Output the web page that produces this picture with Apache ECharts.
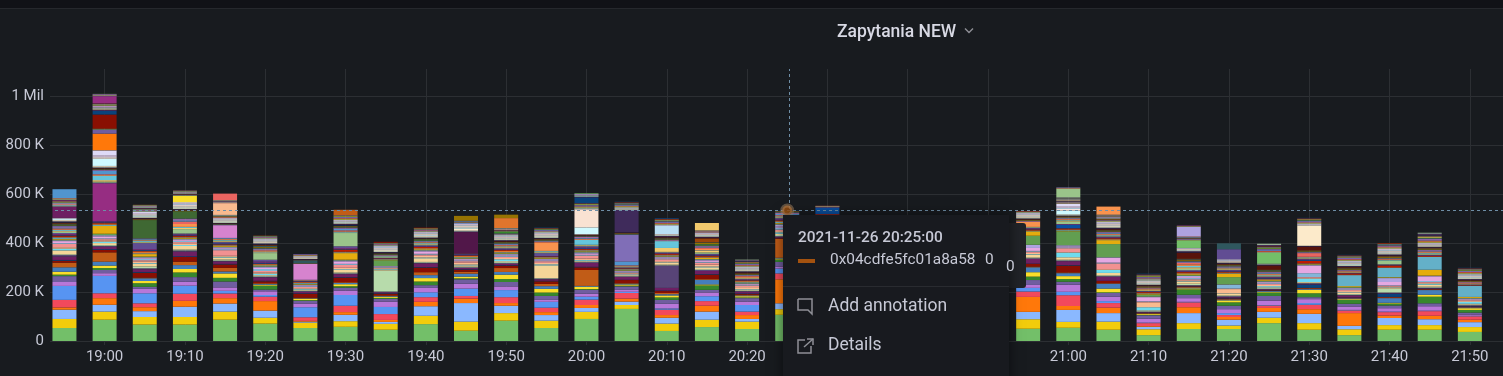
<!DOCTYPE html>
<html>
<head>
<meta charset="utf-8">
<title>Zapytania NEW</title>
<script src="https://cdn.jsdelivr.net/npm/echarts@6/dist/echarts.min.js"></script>
<style>
html,body{margin:0;padding:0;background:#181b1f;overflow:hidden}
#chart{width:1503px;height:376px}
</style>
</head>
<body>
<div id="chart"></div>
<script>
// grafana palette, order of the series in the stack
var palette = ['#73BF69','#F2CC0C','#8AB8FF','#FF780A','#F2495C','#5794F2','#B877D9','#705DA0','#37872D','#FADE2A','#447EBC','#C15C17','#890F02','#0A437C','#6D1F62','#584477','#B7DBAB','#F4D598','#70DBED','#F9BA8F','#F29191','#82B5D8','#E5A8E2','#AEA2E0','#629E51','#E5AC0E','#64B0C8','#E0752D','#BF1B00','#0A50A1','#962D82','#614D93','#9AC48A','#F2C96D','#65C5DB','#F9934E','#EA6460','#5195CE','#D683CE','#806EB7','#3F6833','#967302','#2F575E','#99440A','#58140C','#052B51','#511749','#3F2B5B','#E0F9D7','#FCEACA','#CFFAFF','#F9E2D2','#FCE2DE','#BADFF4','#F9D9F9','#DEDAF7'];

var times = ['18:55','19:00','19:05','19:10','19:15','19:20','19:25','19:30','19:35','19:40','19:45','19:50','19:55','20:00','20:05','20:10','20:15','20:20','20:25','20:30','20:35','20:40','20:45','20:50','20:55','21:00','21:05','21:10','21:15','21:20','21:25','21:30','21:35','21:40','21:45','21:50'];
var xTicks = ['19:00','19:10','19:20','19:30','19:40','19:50','20:00','20:10','20:20','20:30','20:40','20:50','21:00','21:10','21:20','21:30','21:40','21:50'];
var yTicks = [0,200000,400000,600000,800000,1000000];

// values in thousands, one entry per series, bottom of the stack first
var bar1855 = [53,37,38,9,31,57,16,24,6,12,18,19,8,3,14,6, 3,16,7,6,14,3,8,3,3,3,6,3,5,3,3,4, 5,3,4,3,4,4,3,3,3,3,3,2,2,2,2,2, 2,3,4,1,1,1,1,1, 0,0,0,0,0,0,0,0,0,0,0,0,0,0, 46, 1,2,1,2,2,3,2,1,2,2,1,2,1,2,1,2,1,2,2,1,1,1, 36];
var bar1900 = [87,33,28,27,20,71,11,13,8,10,16,38,10,3,10,4, 3,8,6,5,5,3,8,5,6,32,5,5,4,4,156,3, 4,6,18,3,3,14,2,2,1,1,1,2,2,1,1,1, 3,3,30,3,3,2,5,20, 0,0,1,68,0,0,0,16,1,1,1,2,57,16, 2,2,1,2,2,2,2,2,3,2,2,2,2,1,2,1, 29, 1,1,1,1,1,1,1,1,1,1];
var bar1905 = [67,31,24,16,16,41,18,8,15,9,11,3,20,3,11,4, 8,10,3,7,5,6,3,3,3,10,3,8,3,3,3,25, 3,2,5,2,2,3,1,1,75,2,1,1,2,1,1,1, 2,3,5,2,3,2,3,5, 1,1,1,1,1,1,1,1,1,1,1,1,1,1,1,1,1,1,1,1,1,1,1,1,1,1,1,1];
var bar1910 = [67,31,42,24,29,33,16,19,19,14,16,14,19,3,19,5, 4,14,4,7,5,5,4,3,2,3,2,3,4,2,3,4, 18,5,4,12,10,5,4,3,30,2,1,1,2,1,1,1, 3,4,3,3,4,3,3,5, 0,0,0,0,0,0,0,0,0,27,2,1,2,1, 1,1,1,1,1,1,1,1,1,1,1,1,1,1,1,1];
var bar1915 = [87,33,33,22,19,11,14,24,15,18,8,15,14,2,10,3, 5,8,3,4,23,4,4,4,2,3,2,3,2,4,2,3, 2,4,3,3,2,3,52,2,1,1,1,1,1,1,1,1, 3,3,3,2,3,2,2,2, 0,1,0,1,1,0,1,0,1,1,0,1,0,1,1,0,1,1,1, 48, 1,1,1,1,0,1,1,1,0,1,1,1,0,1,1,1, 26];
var bar1920 = [71,24,29,39,18,7,15,7,16,4,3,3,8,2,14,3, 3,3,6,5,6,8,5,5,2,3,2,3,2,4,4,8, 27,3,3,3,3,3,2,2,3,3,5,2,2,2,2,2, 2,3,2,2,3,2,2,3, 1,1,1,1,1,1,1,1,1,1,1,1];
var bar1925 = [53,22,4,3,15,41,15,11,3,5,2,3,16,2,6,3, 3,3,3,3,5,3,3,2,2,3,3,3,2,2,1,2, 0,1,0,1,0,1,65,1,1,1,12,1,1,1,1,1, 2,2,1,2,1,1,1,2, 1,1,1,1,1,1,1,1];
var bar1930 = [58,23,26,11,26,44,18,12,6,8,5,3,19,2,12,3, 4,10,3,6,12,4,10,4,3,27,3,3,9,2,3,8, 54,2,3,2,4,6,2,3,2,3,1,1,1,3,2,3, 2,3,2,2,1,1,2,3, 1,2,1,2,1,2,2,1,2,2,2, 23];
var bar1935 = [46,24,8,8,24,29,22,11,4,4,3,3,7,2,4,3, 86,4,2,3,3,2,2,2,24,2,2,1,2,1,1,1, 3,2,2,1,1,1,1,1,2,1,2,1,1,2,1,2, 3,4,3,3,4,3,2,3, 1,1,1,1,1,1,1,1,1,1,1,1,4];
var bar1940 = [69,34,39,18,19,20,18,11,15,14,12,12,19,2,15,3, 3,15,3,7,5,3,10,4,2,3,2,3,4,2,2,3, 4,3,3,2,2,2,1,1,6,1,1,1,1,1,1,2, 3,4,3,3,3,2,2,3, 1,1,1,1,2,1,1,2,1,2,1,1,2];
var bar1945 = [42,37,76,18,11,30,20,18,4,7,12,8,8,2,5,3, 3,5,3,8,6,3,5,2,2,3,2,4,3,3,1,2, 0,0,0,0,0,0,1,0,0,0,0,0,1,0,87,3, 3,8,5,5,3,2,3,3, 0,0,1,0,0,1,0,0,1,0,0,1,0,0,1,0,0,1,0,0,1,0,0,1,0,0,1,0,0,1,0,0,1,0,0,1,0,0,0,0,0, 19];
var bar1950 = [83,31,30,11,24,29,15,18,12,18,11,16,10,2,5,3, 4,4,8,5,5,5,3,3,3,3,2,6,3,2,2,3, 3,3,2,3,2,3,1,2,3,2,1,1,3,1,1,2, 3,3,2,3,2,2,2,3, 1,1,1,0,1,1,1,1, 8, 1,1,1,1,0,1,1,1,0,1,1,1,0,1,1,1,0,1, 41, 0,0,0,0,0,0,0,0,0,0,0,0,0, 14];
var bar1955 = [53,30,23,12,18,24,8,16,14,15,11,9,11,2,6,3, 2,52,4,6,7,3,3,3,2,2,2,2,2,1,1,12, 3,3,3,35,3,2,1,1,2,2,1,1,2,1,1,2, 3,3,3,3,3,2,2,3, 1,1,2,1,1,2,1,1,2,1,1,2,1,2];
var bar2000 = [90,29,16,12,22,12,12,16,3,10,3,65,11,2,16,3, 3,3,3,6,12,3,5,5,3,2,3,3,3,3,3,5, 3,3,20,3,2,3,3,2,1,1,1,2,1,1,1,1, 1,1,27,73,2,1,1,1, 2,2,1,2,1,2,2,1,2,2,2,1,1, 24, 1,1,1,1,2,1,1,2,2,2,3];
var bar2005 = [131,16,14,12,23,5,8,14,3,5,3,2,13,1,12,2, 2,3,3,4,3,2,3,3,2,2,2,2,2,1,1,2, 1,2,1,2,2,16,1,109,2,2,1,1,1,1,1,92, 2,1,1,1,1,1,1,2, 1,2,1,2,1,2,2,1,2,1,2,2,2,2];
var bar2010 = [41,30,24,11,22,5,19,16,10,8,5,5,8,2,11,92, 3,7,2,5,8,3,4,3,2,2,2,3,3,1,2,3, 2,16,28,1,1,1,2,1,2,2,2,2,2,1,2,2, 2,1,2,1,2,34,1,2, 1,2,2,2,2,2,2,2,2,2,2,2,2,3];
var bar2015 = [57,30,33,24,19,20,15,11,18,4,19,3,18,2,13,4, 3,8,3,8,8,3,6,4,2,4,2,4,3,2,2,4, 6,6,2,6,6,2,2,2,8,5,2,16,2,1,2,2, 2,3,2,2,2,2,2,2, 0,0,0,1,0,0,0,1,0,0,0,1,0,0,0,1,0,0,0,1,0,0,0,1,0,0,0,1,0,0,0,1,1, 30];
var bar2020 = [49,30,11,16,14,27,14,14,3,5,3,3,3,2,8,2, 3,3,2,8,7,3,3,2,2,2,3,4,2,1,2,2, 2,2,1,5,3,2,1,1,2,2,1,2,3,1,2,2, 3,3,2,2,2,1,1,3, 1,2,2,2,1,2,2,2,2,2,1,2,1,2,2,2,2];
var bar2025 = [107,23,24,98,24,20,8,19,10,4,3,77,3,2,3,3, 5,5,6,5,6,8,5,8,3,3,5,3,3,3,3,3, 2,2,3,2,3,5,3,3,2,2,1,1,1,3];
var bar2030 = [60,30,30,30,25,40,25,20,10,10,10,15,10,5,10,5, 10,10,8,10,12,10,10,10,65,8,12,10,8,27,1,1, 1,1,1,1,1];
var bar2035 = [];
var bar2040 = [];
var bar2045 = [];
var bar2050 = [];
var bar2055 = [50,39,30,61,22,15,12,20,14,18,20,3,11,1,19,3, 3,12,2,5,5,3,12,13,37,18,2,2,4,2,2,2, 2,1,1,20,2,1,1,1,1,2,1,1,2,1,1,1, 3,5,2,3,3,2,2,3, 1,1,1,1,1];
var bar2100 = [54,24,49,16,44,14,29,12,11,12,12,3,28,2,16,3, 3,10,19,2,16,3,4,5,57,3,3,2,4,14,2,2, 10,4,2,3,3,2,1,1,1,2,1,1,1,1,1,1, 2,2,15,3,5,5,5,10, 1,1,1,0,1,1,1,1,0,1,1,1,0,1,1,1,1,1,0,1,1,1,1,0,1,1,1,1,0,1,1,1, 35, 1,1,1,1,1,1];
var bar2105 = [46,33,35,22,19,8,18,15,3,15,20,2,9,1,16,3, 3,10,12,3,24,3,20,2,54,16,2,3,3,2,2,3, 2,2,2,3,2,3,2,3,2,2,2,2,3,2,2,2, 2,4,3,3,3,2,3,5, 1,1,0,1,1,1,0,1,1,1,0,1,1,1,1,0,1,1,1,0,1,1,1,1,0,1,1,1,0,1,1,1,1,1,1, 33];
var bar2110 = [24,24,10,3,12,2,16,14,2,4,1,1,2,1,2,2, 2,3,13,20,2,2,17,2,9,2,2,3,3,2,1,1, 2,3,1,3,2,1,1,1,1,2,2,2,2,1,1,1, 2,3,3,3,3,1,1,2, 1,2,2,2,1,2,2,2,2,2,2,2,2,3];
var bar2115 = [49,24,41,24,20,2,15,14,22,4,3,3,2,1,2,2, 6,8,2,4,4,5,4,5,3,4,2,4,3,2,2,3, 6,6,6,6,6,2,2,2,3,3,3,3,23,2,2,3, 1,2,2,3,2,1,1,1, 31, 1,1,1,0,1,1,1,1,0,1,1,1,0,1,1,1,0,1,1,1,0,1, 38, 1,1,1,1,1,1,1];
var bar2120 = [49,14,24,11,8,8,16,14,14,8,3,2,3,3,3,3, 3,8,1,17,2,15,1,1,30,14,2,3,3,2,2,3, 2,2,2,2,2,2,1,2,1,3,2,2,2,1,1,3, 1,2,1,2,2,2,2,2, 0,0,0,0,0,0,0,0,0,0,0,0,0,0,0,0,0,0,0,0,0,0,0,0,0,0,0,0,0,0,0, 41, 0,0,0,0,0,0,0,0,0,0, 24];
var bar2125 = [73,22,24,16,10,2,18,19,14,3,3,1,2,1,3,2, 3,3,5,5,4,3,4,3,3,3,2,2,2,3,2,3, 2,3,2,3,2,3,2,3,2,3,2,2,16,1,2,2, 3,0,0,0,0,0,0,0, 44, 2,2,2,3,3,2,2,3,2,2,2,2,2,2,2,4];
var bar2130 = [46,27,38,19,18,7,16,8,16,14,3,3,2,14,3,2, 2,3,14,3,3,16,31,2,2,2,2,1,11,3,2,3, 2,2,2,2,15,1,1,2,2,2,2,2,14,1,1,1, 1,82,1,1,1,2,2,2, 1,1,2,1,2,2,1,2,2,2,1,2,2,2];
var bar2135 = [24,24,14,52,11,2,14,11,16,3,3,1,2,1,8,3, 3,5,2,5,4,3,3,3,3,4,45,2,5,1,1,1, 1,2,1,2,2,1,1,1,2,3,2,3,2,1,1,3, 3,2,3,2,3,2,2,3, 1,2,2,1,2,2,2,2,1,2,2,2,2,2];
var bar2140 = [46,19,29,10,14,2,14,11,8,3,19,3,2,14,2,2, 16,3,2,3,3,2,14,16,2,2,38,2,8,2,1,1, 15,1,2,2,2,1,1,1,2,3,2,2,2,1,1,3, 3,2,3,4,3,3,3,3, 1,1,2,2,2,1,2,2,2,1,2,2,2];
var bar2145 = [46,19,24,14,19,2,18,12,27,8,19,2,2,2,2,2, 4,8,4,4,3,4,19,2,1,24,52,2,3,1,2,1, 3,2,3,3,3,3,2,1,2,2,2,2,1,1,1,2, 2,2,1,3,2,2,2,2, 1,2,2,3,2,2,3,3,2,3,3,2,2,3,2,3,3];
var bar2150 = [37,20,20,10,14,2,5,8,11,7,3,1,2,2,2,2, 3,3,8,4,3,2,3,2,2,4,45,1,2,1,1,1, 1,1,1,2,3,1,1,1,1,2,1,1,2,1,1,2, 3,3,3,3,2,2,2,2, 2,2,1,2,2,2,2,1,2,2,2,2,2,2];

var barValues = [bar1855,bar1900,bar1905,bar1910,bar1915,bar1920,bar1925,bar1930,bar1935,bar1940,bar1945,bar1950,bar1955,bar2000,bar2005,bar2010,bar2015,bar2020,bar2025,bar2030,bar2035,bar2040,bar2045,bar2050,bar2055,bar2100,bar2105,bar2110,bar2115,bar2120,bar2125,bar2130,bar2135,bar2140,bar2145,bar2150];

var hoverTime = '20:25';
var crossTime = '20:25:13';
var hoverValue = 533000;

function toMs(t) {
    var p = t.split(':');
    return new Date(2021, 10, 26, +p[0], +p[1], +(p[2] || 0)).getTime();
}

var maxLen = 0;
for (var b = 0; b < barValues.length; b++) {
    if (barValues[b].length > maxLen) maxLen = barValues[b].length;
}

var series = [];
for (var s = 0; s < maxLen; s++) {
    var datas = [];
    for (var i = 0; i < times.length; i++) {
        datas.push([toMs(times[i]), (barValues[i][s] || 0) * 1000]);
    }
    series.push({
        name: 'q' + s,
        type: 'bar',
        stack: 'all',
        barWidth: 24,
        silent: true,
        itemStyle: {color: palette[s % palette.length]},
        data: datas
    });
}

// crosshair and the hovered point
series.push({
    name: '0x04cdfe5fc01a8a58',
    type: 'scatter',
    z: 5,
    silent: true,
    symbolSize: 10,
    itemStyle: {color: '#A4520F', borderColor: 'rgba(190,150,110,0.55)', borderWidth: 4},
    data: [[toMs(hoverTime), hoverValue]],
    markLine: {
        silent: true,
        symbol: 'none',
        animation: false,
        label: {show: false},
        lineStyle: {color: '#6f8ea6', width: 1, type: [3, 3]},
        data: [{yAxis: hoverValue}, {xAxis: toMs(crossTime)}]
    }
});

var gridColor = '#2c2f33';
var textColor = '#c7c9d6';
var iconColor = '#8e8f96';
var tipBg = '#181a1f';

function text(x, y, str, font, color) {
    return {type: 'text', z: 102, x: x, y: y, style: {text: str, font: font, fill: color || textColor, textVerticalAlign: 'middle'}};
}
function poly(points, color, width) {
    return {type: 'polyline', z: 102, shape: {points: points}, style: {stroke: color || iconColor, lineWidth: width || 1.5, fill: null}};
}

var graphic = [
    // dashboard strip above the panel
    {type: 'rect', z: 90, shape: {x: 0, y: 0, width: 1503, height: 8}, style: {fill: '#111217'}},
    {type: 'rect', z: 90, shape: {x: 0, y: 8, width: 1503, height: 1}, style: {fill: '#26282d'}},
    poly([[965, 28.5], [969, 32.5], [973, 28.5]], '#8e8f96', 1.4),
    // tooltip left behind
    {type: 'rect', z: 100, shape: {x: 960, y: 223, width: 66, height: 65, r: 3}, style: {fill: '#212328'}},
    text(1006, 267, '0', '15.4px Roboto', textColor),
    // tooltip
    {type: 'rect', z: 101, shape: {x: 783, y: 215, width: 226, height: 170}, style: {fill: tipBg, shadowBlur: 12, shadowColor: 'rgba(0,0,0,0.55)'}},
    text(798, 238, '2021-11-26 20:25:00', '500 15.4px Roboto'),
    {type: 'rect', z: 102, shape: {x: 798, y: 259, width: 17, height: 4}, style: {fill: '#A4520F'}},
    text(830, 260, '0x04cdfe5fc01a8a58', '15.4px Roboto'),
    text(985, 260, '0', '15.4px Roboto'),
    {type: 'rect', z: 102, shape: {x: 783, y: 286, width: 226, height: 1}, style: {fill: '#292b30'}},
    poly([[798, 299], [812, 299], [812, 314], [808, 310], [798, 310], [798, 299]]),
    text(828, 307, 'Add annotation', '17.5px Roboto'),
    poly([[805, 340], [798, 340], [798, 353], [811, 353], [811, 346]]),
    poly([[804, 347], [813, 339]]),
    poly([[807, 339], [813, 339], [813, 345]]),
    text(828, 346, 'Details', '17.5px Roboto')
];

var chart = echarts.init(document.getElementById('chart'));
chart.setOption({
    animation: false,
    backgroundColor: '#181b1f',
    textStyle: {fontFamily: 'Roboto'},
    title: {
        text: 'Zapytania NEW',
        left: 832,
        top: 19,
        textStyle: {color: '#d8d9e4', fontSize: 17.5, fontWeight: 500, fontFamily: 'Roboto'}
    },
    grid: {left: 55, right: 0, top: 69, bottom: 35},
    xAxis: {
        type: 'time',
        // the bars widen this range by half a bar on both sides
        min: toMs('18:55:19'),
        max: toMs('21:52:38'),
        axisLine: {lineStyle: {color: gridColor}},
        axisTick: {length: 4, lineStyle: {color: gridColor}, customValues: xTicks.map(toMs)},
        splitLine: {show: true, lineStyle: {color: gridColor}},
        axisLabel: {
            color: textColor,
            fontSize: 15,
            fontFamily: 'Roboto',
            margin: 9,
            customValues: xTicks.map(toMs),
            formatter: '{HH}:{mm}'
        }
    },
    yAxis: {
        type: 'value',
        min: 0,
        max: 1111000,
        interval: 200000,
        axisLine: {show: false},
        axisTick: {show: true, length: 5, lineStyle: {color: gridColor}, customValues: yTicks},
        splitLine: {show: true, lineStyle: {color: gridColor}},
        axisLabel: {
            color: textColor,
            fontSize: 15,
            fontFamily: 'Roboto',
            margin: 11,
            customValues: yTicks,
            formatter: function (v) {
                if (v === 0) return '0';
                return v >= 1000000 ? (v / 1000000) + ' Mil' : (v / 1000) + ' K';
            }
        }
    },
    series: series,
    graphic: graphic
});
</script>
</body>
</html>
